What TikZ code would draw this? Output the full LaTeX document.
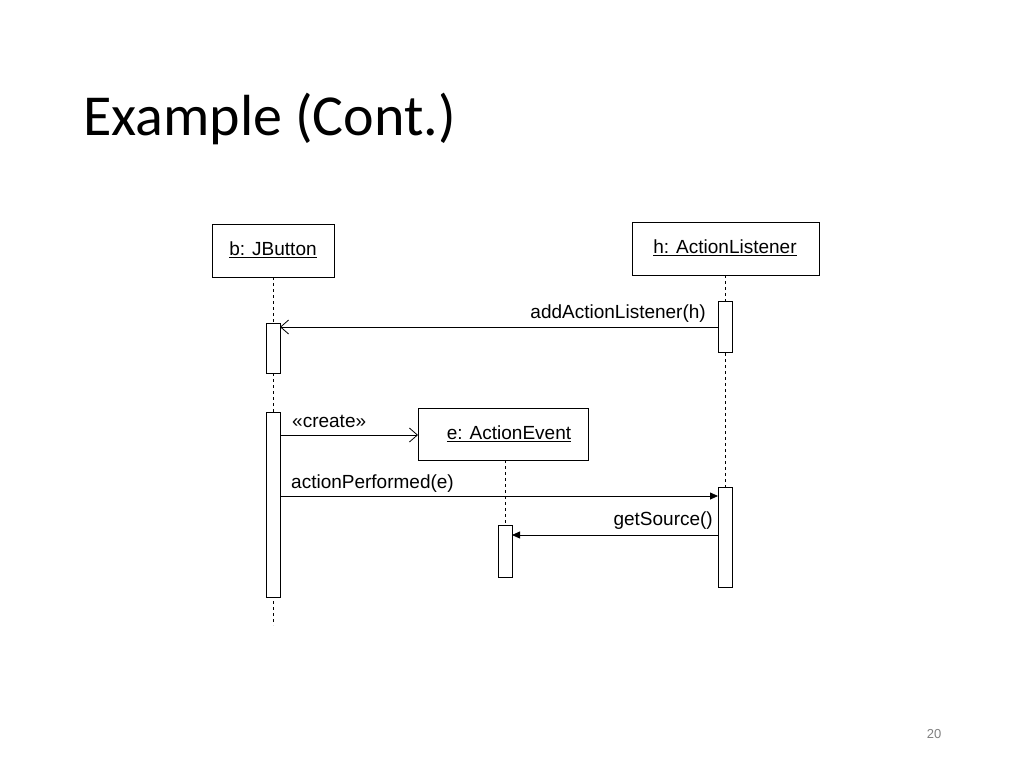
\documentclass[tikz,border=0pt]{standalone}
\usepackage{fontspec}
\setmainfont{Liberation Sans}
\newfontfamily\titlefont{Carlito}
\usetikzlibrary{arrows.meta}
\begin{document}
\begin{tikzpicture}[x=1pt,y=-1pt,
 obj/.style={draw,thick,fill=white,inner sep=0},
 act/.style={draw,fill=white},
 life/.style={dashed,thin},
 lbl/.style={font=\fontsize{19}{22}\selectfont,inner sep=0},
 open/.style={-{Straight Barb[length=8pt,width=14pt]},thick},
 solid/.style={-{Triangle[length=8pt,width=7pt]},thick}]
\useasboundingbox (0,0) rectangle (1024,768);
\node[anchor=base west,inner sep=0,font=\titlefont\fontsize{58}{60}\selectfont] (title) at (83,135) {Example (Cont.)};
\node[inner sep=0,text=gray,font=\fontsize{13}{15}\selectfont] (pg) at (934,734) {20};
% lifelines
\coordinate (bend) at (273,625);
\coordinate (hend) at (725,587);
\draw[life] (273,277) -- (bend);
\draw[life] (725,275) -- (hend);
\draw[life] (505,460) -- (505,525);
% objects
\draw[thick,fill=white] (212,224) rectangle (334,277);
\node[lbl] (b) at (273,250) {\underline{b: JButton}};
\draw[thick,fill=white] (632,222) rectangle (819,275);
\node[lbl] (h) at (725,248) {\underline{h: ActionListener}};
\draw[thick,fill=white] (418,408) rectangle (588,460);
\node[lbl] (e) at (509,434) {\underline{e: ActionEvent}};
% activations
\draw[act] (266,323) rectangle (280,373);
\draw[act] (266,412) rectangle (280,597);
\draw[act] (718,301) rectangle (732,352);
\draw[act] (718,487) rectangle (732,587);
\draw[act] (498,525) rectangle (512,577);
% messages
\coordinate (m1s) at (718,327); \coordinate (m1e) at (280,327);
\draw[open] (m1s) -- (m1e);
\node[lbl,anchor=base east] at (706,318) {addActionListener(h)};
\coordinate (m2s) at (280,435); \coordinate (m2e) at (418,435);
\draw[open] (m2s) -- (m2e);
\node[lbl,anchor=base west] at (292,427) {<<create>>};
\coordinate (m3s) at (280,496); \coordinate (m3e) at (718,496);
\draw[solid] (m3s) -- (m3e);
\node[lbl,anchor=base west] at (291,488) {actionPerformed(e)};
\coordinate (m4s) at (718,535); \coordinate (m4e) at (512,535);
\draw[solid] (m4s) -- (m4e);
\node[lbl,anchor=base east] at (713,525) {getSource()};
\end{tikzpicture}
\end{document}
